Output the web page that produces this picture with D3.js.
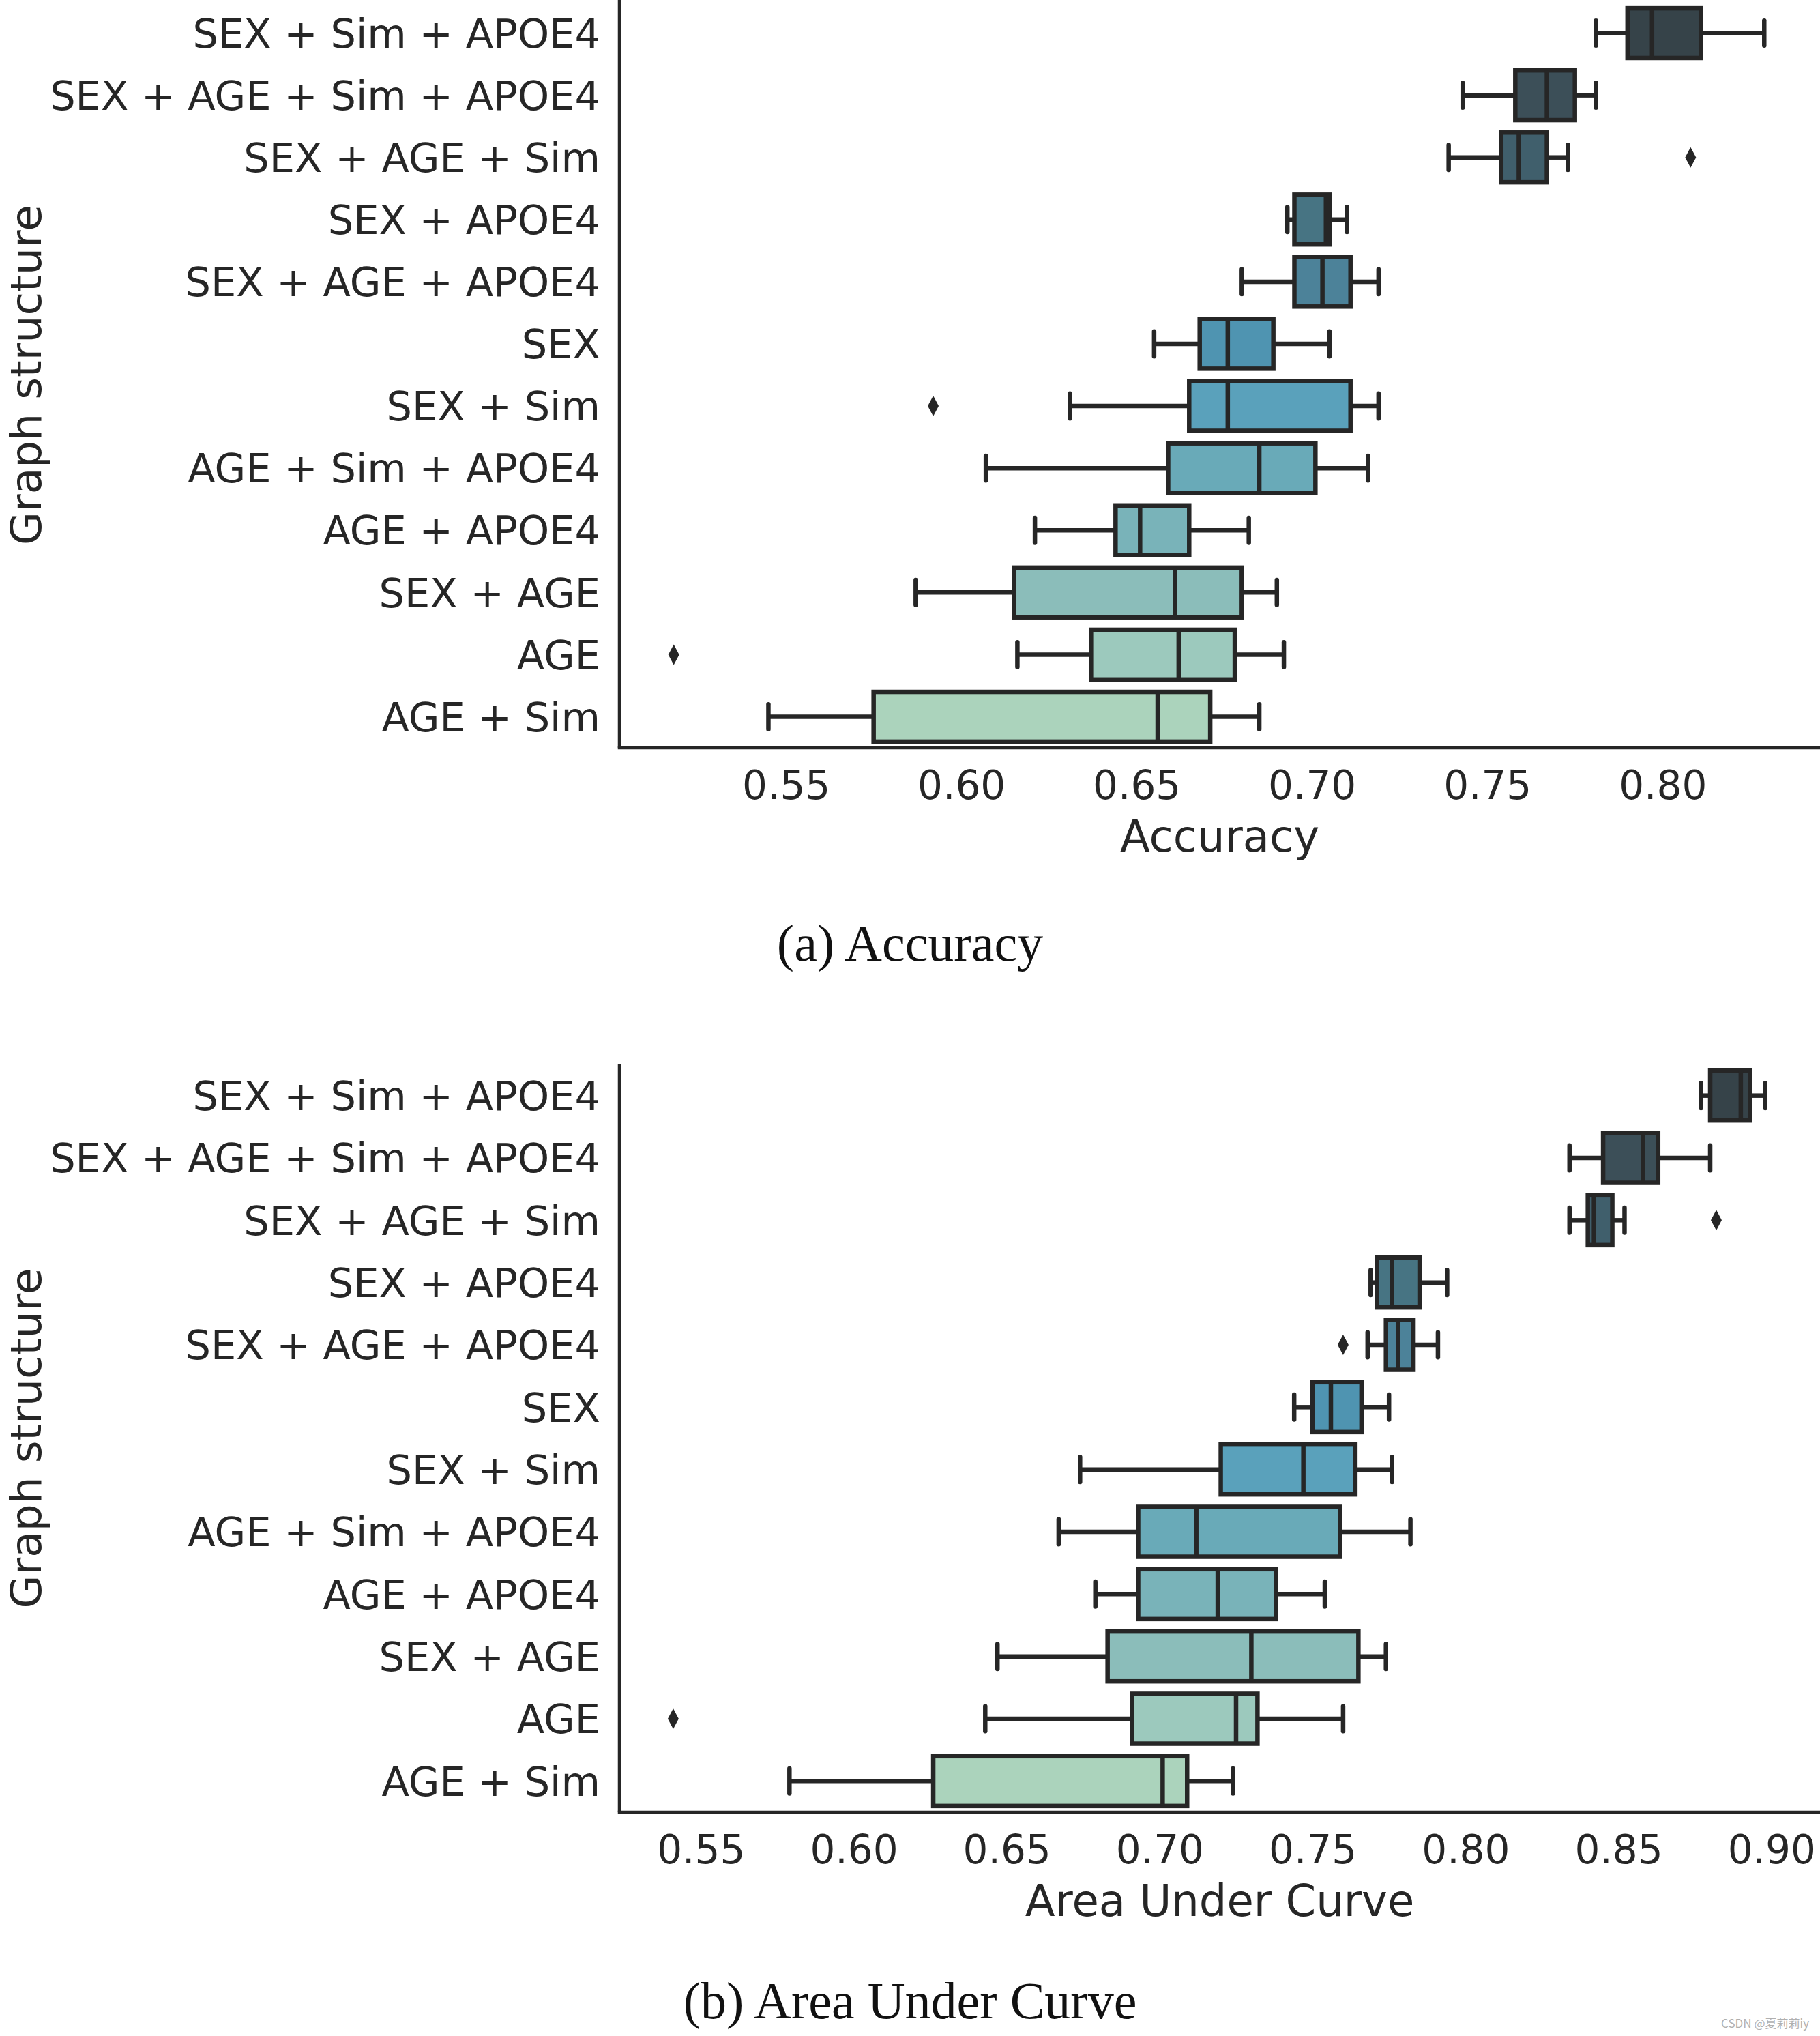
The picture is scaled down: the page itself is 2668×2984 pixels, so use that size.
<!DOCTYPE html>
<html>
<head>
<meta charset="utf-8">
<script src="https://cdn.jsdelivr.net/npm/d3@7"></script>
<style>
  html, body { margin: 0; padding: 0; background: #ffffff; }
  svg { display: block; }
</style>
</head>
<body>
<svg id="chart" width="2668" height="2984"></svg>
<script>
// ---------------- DATA ----------------
const categories = [
  "SEX + Sim + APOE4",
  "SEX + AGE + Sim + APOE4",
  "SEX + AGE + Sim",
  "SEX + APOE4",
  "SEX + AGE + APOE4",
  "SEX",
  "SEX + Sim",
  "AGE + Sim + APOE4",
  "AGE + APOE4",
  "SEX + AGE",
  "AGE",
  "AGE + Sim"
];

// Accuracy (panel a)
const accLow  = [0.781, 0.743, 0.739, 0.693, 0.680, 0.655, 0.631, 0.607, 0.621, 0.587, 0.616, 0.545];
const accQ1   = [0.790, 0.758, 0.754, 0.695, 0.695, 0.668, 0.665, 0.659, 0.644, 0.615, 0.637, 0.575];
const accMed  = [0.797, 0.767, 0.759, 0.704, 0.703, 0.676, 0.676, 0.685, 0.651, 0.661, 0.662, 0.656];
const accQ3   = [0.811, 0.775, 0.767, 0.705, 0.711, 0.689, 0.711, 0.701, 0.665, 0.680, 0.678, 0.671];
const accHigh = [0.829, 0.781, 0.773, 0.710, 0.719, 0.705, 0.719, 0.716, 0.682, 0.690, 0.692, 0.685];
const accOutCat = ["SEX + AGE + Sim", "SEX + Sim", "AGE"];
const accOutVal = [0.808, 0.592, 0.518];
const accTicks = [0.55, 0.60, 0.65, 0.70, 0.75, 0.80];
const accDomain = [0.5025, 0.8449];

// Area Under Curve (panel b)
const aucLow  = [0.877, 0.834, 0.834, 0.769, 0.768, 0.744, 0.674, 0.667, 0.679, 0.647, 0.643, 0.579];
const aucQ1   = [0.880, 0.845, 0.840, 0.771, 0.774, 0.750, 0.720, 0.693, 0.693, 0.683, 0.691, 0.626];
const aucMed  = [0.890, 0.858, 0.842, 0.776, 0.778, 0.756, 0.747, 0.712, 0.719, 0.730, 0.725, 0.701];
const aucQ3   = [0.893, 0.863, 0.848, 0.785, 0.783, 0.766, 0.764, 0.759, 0.738, 0.765, 0.732, 0.709];
const aucHigh = [0.898, 0.880, 0.852, 0.794, 0.791, 0.775, 0.776, 0.782, 0.754, 0.774, 0.760, 0.724];
const aucOutCat = ["SEX + AGE + Sim", "SEX + AGE + APOE4", "AGE"];
const aucOutVal = [0.882, 0.760, 0.541];
const aucTicks = [0.55, 0.60, 0.65, 0.70, 0.75, 0.80, 0.85, 0.90];
const aucDomain = [0.5234, 0.9159];

// ---------------- STYLE ----------------
const palette = [
  "#364349", "#3c4f58", "#405f6c", "#477483", "#4c8299", "#4f94b1",
  "#5aa1bb", "#69aab8", "#79b3b9", "#8bbdba", "#9cc9bd", "#abd3bc"
];
const ink = "#262626";
const sansFont = "'DejaVu Sans', sans-serif";
const serifFont = "'Liberation Serif', 'DejaVu Serif', serif";

const svg = d3.select("#chart");

function drawPanel(opt) {
  const x = d3.scaleLinear().domain(opt.domain).range([opt.left, opt.right]);
  const y = d3.scaleBand().domain(categories).range([opt.top, opt.bottom]).padding(0);
  const bw = y.bandwidth();
  const boxH = bw * 0.8;
  const capH = boxH * 0.5;
  const lw = 6.5;
  const g = svg.append("g");

  const rows = categories.map((c, i) => ({
    cat: c, low: opt.low[i], q1: opt.q1[i], med: opt.med[i], q3: opt.q3[i], high: opt.high[i], color: palette[i]
  }));
  const cy = d => y(d.cat) + bw / 2;

  const row = g.selectAll("g.row").data(rows).join("g").attr("class", "row");

  // whiskers
  row.append("line")
    .attr("x1", d => x(d.low)).attr("x2", d => x(d.q1))
    .attr("y1", cy).attr("y2", cy)
    .attr("stroke", ink).attr("stroke-width", lw);
  row.append("line")
    .attr("x1", d => x(d.q3)).attr("x2", d => x(d.high))
    .attr("y1", cy).attr("y2", cy)
    .attr("stroke", ink).attr("stroke-width", lw);
  // caps
  row.append("line")
    .attr("x1", d => x(d.low)).attr("x2", d => x(d.low))
    .attr("y1", d => cy(d) - capH / 2).attr("y2", d => cy(d) + capH / 2)
    .attr("stroke", ink).attr("stroke-width", lw).attr("stroke-linecap", "round");
  row.append("line")
    .attr("x1", d => x(d.high)).attr("x2", d => x(d.high))
    .attr("y1", d => cy(d) - capH / 2).attr("y2", d => cy(d) + capH / 2)
    .attr("stroke", ink).attr("stroke-width", lw).attr("stroke-linecap", "round");
  // boxes
  row.append("rect")
    .attr("x", d => x(d.q1)).attr("width", d => x(d.q3) - x(d.q1))
    .attr("y", d => cy(d) - boxH / 2).attr("height", boxH)
    .attr("fill", d => d.color)
    .attr("stroke", ink).attr("stroke-width", lw);
  // medians
  row.append("line")
    .attr("x1", d => x(d.med)).attr("x2", d => x(d.med))
    .attr("y1", d => cy(d) - boxH / 2).attr("y2", d => cy(d) + boxH / 2)
    .attr("stroke", ink).attr("stroke-width", lw);

  // outliers (thin diamonds)
  const outs = opt.outCat.map((c, i) => ({ cat: c, v: opt.outVal[i] }));
  g.selectAll("path.out").data(outs).join("path")
    .attr("class", "out")
    .attr("transform", d => `translate(${x(d.v)},${cy(d)})`)
    .attr("d", "M0,-15 L8,0 L0,15 L-8,0 Z")
    .attr("fill", ink);

  // spines
  g.append("line")
    .attr("x1", opt.left).attr("x2", opt.left)
    .attr("y1", opt.top - (opt.spineExtraTop || 0)).attr("y2", opt.bottom)
    .attr("stroke", ink).attr("stroke-width", 4.5);
  g.append("line")
    .attr("x1", opt.left - 2.25).attr("x2", opt.right)
    .attr("y1", opt.bottom).attr("y2", opt.bottom)
    .attr("stroke", ink).attr("stroke-width", 4.5);

  // x axis ticks
  const xAxis = d3.axisBottom(x).tickValues(opt.ticks).tickFormat(d3.format(".2f")).tickSize(0).tickPadding(0);
  const xa = g.append("g").attr("transform", `translate(0,${opt.bottom})`).call(xAxis);
  xa.select(".domain").remove();
  xa.selectAll("text")
    .attr("y", 75).attr("dy", 0)
    .attr("font-family", sansFont).attr("font-size", 58).attr("fill", ink);

  // y axis ticks
  const yAxis = d3.axisLeft(y).tickSize(0).tickPadding(0);
  const ya = g.append("g").attr("transform", `translate(${opt.left},0)`).call(yAxis);
  ya.select(".domain").remove();
  ya.selectAll("text")
    .attr("x", -28).attr("dy", "0.36em")
    .attr("font-family", sansFont).attr("font-size", 59).attr("fill", ink);

  // axis titles
  g.append("text")
    .attr("x", (opt.left + opt.right) / 2).attr("y", opt.bottom + 152)
    .attr("text-anchor", "middle")
    .attr("font-family", sansFont).attr("font-size", 64).attr("fill", ink)
    .text(opt.xTitle);
  g.append("text")
    .attr("transform", `translate(60,${(opt.top + opt.bottom) / 2}) rotate(-90)`)
    .attr("text-anchor", "middle")
    .attr("font-family", sansFont).attr("font-size", 63).attr("fill", ink)
    .text("Graph structure");

  // caption
  g.append("text")
    .attr("x", 1334).attr("y", opt.captionY)
    .attr("text-anchor", "middle")
    .attr("font-family", serifFont).attr("font-size", 76).attr("fill", "#111")
    .text(opt.caption);
}

drawPanel({
  domain: accDomain, ticks: accTicks,
  low: accLow, q1: accQ1, med: accMed, q3: accQ3, high: accHigh,
  outCat: accOutCat, outVal: accOutVal,
  left: 908, right: 2668, top: 3, bottom: 1096, spineExtraTop: 3,
  xTitle: "Accuracy", caption: "(a) Accuracy", captionY: 1408
});

drawPanel({
  domain: aucDomain, ticks: aucTicks,
  low: aucLow, q1: aucQ1, med: aucMed, q3: aucQ3, high: aucHigh,
  outCat: aucOutCat, outVal: aucOutVal,
  left: 908, right: 2668, top: 1560, bottom: 2656,
  xTitle: "Area Under Curve", caption: "(b) Area Under Curve", captionY: 2958
});

// watermark
svg.append("text")
  .attr("x", 2652).attr("y", 2972)
  .attr("text-anchor", "end")
  .attr("font-family", "'Noto Sans CJK SC', 'DejaVu Sans', sans-serif")
  .attr("font-size", 17).attr("fill", "#b0b0b0")
  .text("CSDN @夏莉莉iy");
</script>
</body>
</html>
